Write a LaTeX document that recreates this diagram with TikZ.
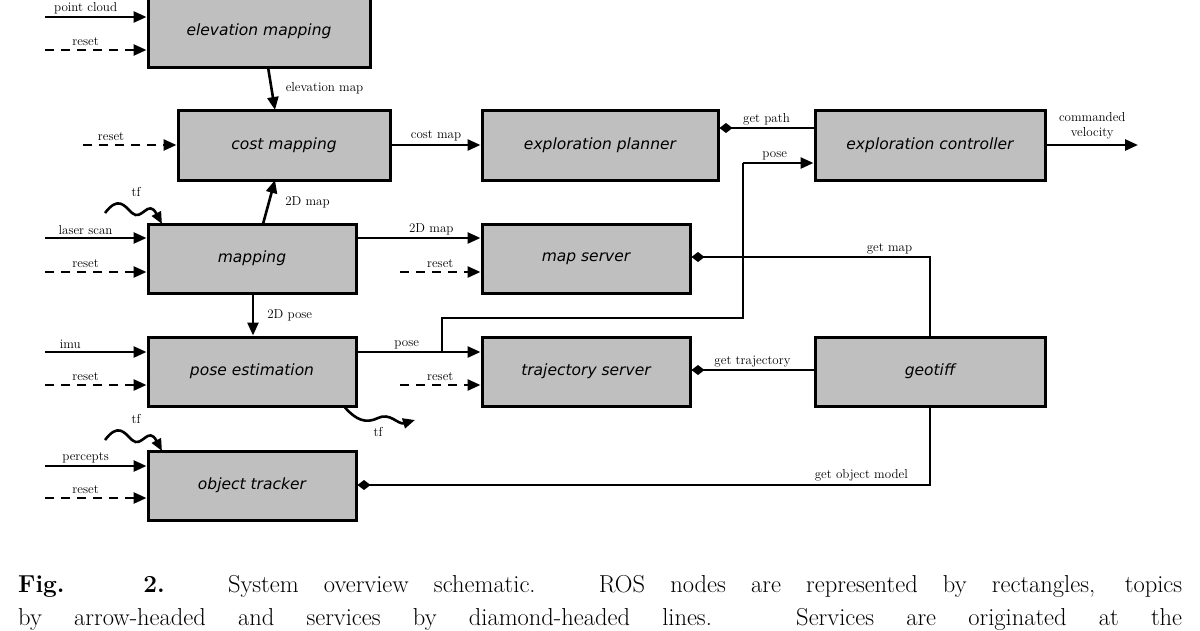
\documentclass[tikz,border=0pt]{standalone}
\usepackage{fontspec}
\newfontfamily\boxfont{DejaVu Sans}
\usetikzlibrary{arrows.meta}
\begin{document}
\begin{tikzpicture}[x=1pt,y=-1pt,
  box/.style={draw,line width=3pt,fill=black!25,inner sep=0pt,font=\boxfont\itshape\fontsize{15.5}{18}\selectfont},
  lab/.style={font=\fontsize{13}{15}\selectfont,inner sep=1pt},
  ar/.style={line width=2.6pt,-{Triangle[length=13pt,width=11pt]}},
  da/.style={ar,dash pattern=on 9pt off 7pt},
  sv/.style={line width=2pt,{Diamond[length=13pt,width=10pt]}-}]
\useasboundingbox (0,0) rectangle (1200,630);
\newcommand\bx[6]{\node[box,minimum width=#4-#2,minimum height=#5-#3] (#1) at ({(#2+#4)/2},{(#3+#5)/2}) {#6};}
\bx{elev}{148}{-5}{370}{67}{elevation mapping}
\bx{cost}{178}{110}{390}{180}{cost mapping}
\bx{plan}{482}{110}{718}{180}{exploration planner}
\bx{ctrl}{815}{110}{1045}{180}{exploration controller}
\bx{mapp}{148}{224}{356}{293}{mapping}
\bx{msrv}{482}{224}{690}{293}{map server}
\bx{pose}{148}{337}{356}{406}{pose estimation}
\bx{tsrv}{482}{337}{690}{406}{trajectory server}
\bx{geo}{815}{337}{1045}{406}{geotiff}
\bx{obj}{148}{451}{356}{520}{object tracker}
% free ends
\coordinate (pc) at (45,17); \coordinate (r1) at (45,50);
\coordinate (r2) at (83,145); \coordinate (ls) at (45,238);
\coordinate (r3) at (45,272); \coordinate (r4) at (400,272);
\coordinate (im) at (45,352); \coordinate (r5) at (45,385);
\coordinate (r6) at (400,385); \coordinate (pe) at (45,466);
\coordinate (r7) at (45,498); \coordinate (cv) at (1138,145);
\draw[ar] (pc) -- (pc-|elev.west) node[lab,pos=.4,above=1pt]{point cloud};
\draw[da] (r1) -- (r1-|elev.west) node[lab,pos=.4,above=2pt]{reset};
\draw[ar] (268,67) -- (275,110) node[lab,right=12pt,pos=.5]{elevation map};
\draw[da] (r2) -- (r2-|cost.west) node[lab,pos=.3,above=2pt]{reset};
\draw[ar] (cost.east) -- (plan.west) node[lab,midway,above=2pt]{cost map};
\draw[sv] (plan.east|-0,128) -- (ctrl.west|-0,128) node[lab,midway,above=1pt]{get path};
\draw[ar] (ctrl.east) -- (cv) node[lab,midway,above=4pt,align=center]{commanded\\velocity};
\draw[ar] (263,224) -- (275,180) node[lab,right=14pt,pos=.5]{2D map};
\draw[ar] (ls) -- (ls-|mapp.west) node[lab,pos=.4,above=1pt]{laser scan};
\draw[da] (r3) -- (r3-|mapp.west) node[lab,pos=.4,above=2pt]{reset};
\draw[ar] (mapp.east|-0,238) -- (msrv.west|-0,238) node[lab,pos=.6,above=1pt]{2D map};
\draw[da] (r4) -- (r4-|msrv.west) node[lab,pos=.5,above=2pt]{reset};
\draw[sv] (msrv.east|-0,257) -- (930,257) node[lab,pos=.83,above=1pt]{get map} -- (geo.north-|930,0);
\draw[ar] (mapp.south-|253,0) -- (pose.north-|253,0) node[lab,midway,right=12pt]{2D pose};
\draw[ar] (im) -- (im-|pose.west) node[lab,pos=.25,above=1pt]{imu};
\draw[da] (r5) -- (r5-|pose.west) node[lab,pos=.4,above=2pt]{reset};
\draw[ar] (pose.east|-0,352) -- (tsrv.west|-0,352) node[lab,pos=.4,above=1pt]{pose};
\draw[line width=2pt] (442,352) -- (442,318) -- (743,318) -- (743,163);
\draw[ar] (743,163) -- (ctrl.west|-0,163) node[lab,pos=.45,above=1pt]{pose};
\draw[da] (r6) -- (r6-|tsrv.west) node[lab,pos=.5,above=2pt]{reset};
\draw[sv] (tsrv.east|-0,370) -- (geo.west|-0,370) node[lab,midway,above=1pt]{get trajectory};
\draw[ar] (pe) -- (pe-|obj.west) node[lab,pos=.4,above=1pt]{percepts};
\draw[da] (r7) -- (r7-|obj.west) node[lab,pos=.4,above=2pt]{reset};
\draw[sv] (obj.east|-0,485) -- (930,485) node[lab,pos=.88,above=2pt]{get object model} -- (geo.south-|930,0);
% tf waves
\draw[line width=2.6pt,-{Triangle[length=12pt,width=10pt]}] (105,213) .. controls (118,196) and (124,205) .. (132,213) .. controls (142,222) and (148,198) .. (162,224);
\node[lab] at (136,192) {tf};
\draw[line width=2.6pt,-{Triangle[length=12pt,width=10pt]}] (105,440) .. controls (118,423) and (124,432) .. (132,440) .. controls (142,449) and (148,425) .. (162,451);
\node[lab] at (136,419) {tf};
\draw[line width=2.6pt,-{Triangle[length=12pt,width=10pt]}] (pose.south-|345,0) .. controls (356,420) and (366,424) .. (378,418) .. controls (390,412) and (398,425) .. (415,420);
\node[lab] at (378,432) {tf};
% caption
\node[anchor=base west,inner sep=0pt,font=\fontsize{24.5}{30}\selectfont] at (18,592) {\makebox[1164pt][s]{\textbf{Fig. 2.} System overview schematic. ROS nodes are represented by rectangles, topics}};
\node[anchor=base west,inner sep=0pt,font=\fontsize{24.5}{30}\selectfont] at (18,625) {\makebox[1164pt][s]{by arrow-headed and services by diamond-headed lines. Services are originated at the}};
\end{tikzpicture}
\end{document}
